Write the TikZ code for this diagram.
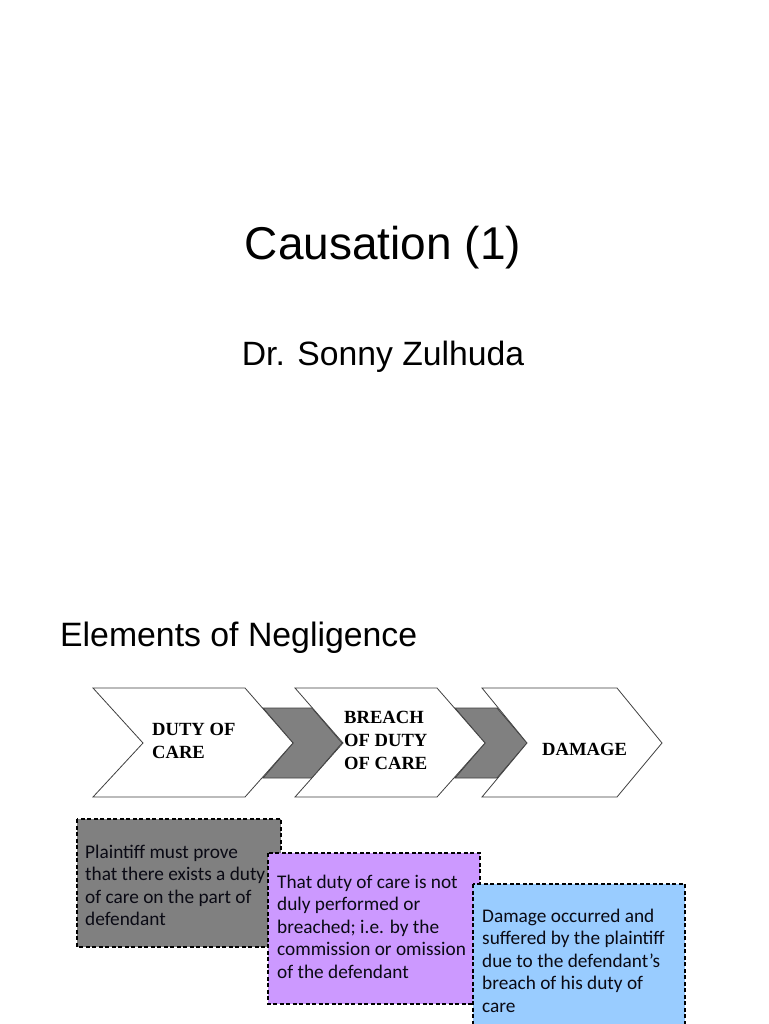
\documentclass[tikz,border=0pt]{standalone}
\usepackage{fontspec}
\setmainfont{Liberation Serif}
\newfontfamily\arialf{Liberation Sans}
\newfontfamily\calf{Carlito}
\definecolor{arrowgray}{HTML}{808080}
\definecolor{edgegray}{HTML}{404040}
\definecolor{boxgray}{HTML}{808080}
\definecolor{boxpurple}{HTML}{CC99FF}
\definecolor{boxblue}{HTML}{99CCFF}
\definecolor{boxtext}{HTML}{0A0A14}
\begin{document}
\begin{tikzpicture}[x=1pt,y=-1pt,
  chev/.style={fill=white,draw=edgegray,line width=0.8pt,line join=miter},
  link/.style={fill=arrowgray,draw=edgegray,line width=0.8pt},
  chevtext/.style={anchor=base west,inner sep=0pt,font=\fontsize{18.6}{23}\selectfont\bfseries,align=left},
  notebox/.style={draw=black,line width=1.2pt,dash pattern=on 4pt off 2.5pt},
  notetext/.style={anchor=base west,inner sep=0pt,text=boxtext,font=\calf\fontsize{19.3}{22.5}\selectfont}
]
\useasboundingbox (0,0) rectangle (768,1024);
\fill[white] (0,0) rectangle (768,1024);

% titles
\node[anchor=base,inner sep=0pt,font=\arialf\fontsize{46}{50}\selectfont] (title) at (383,259) {Causation (1)};
\node[anchor=base,inner sep=0pt,font=\arialf\fontsize{33.7}{40}\selectfont] (author) at (383,365) {Dr. Sonny Zulhuda};
\node[anchor=base west,inner sep=0pt,font=\arialf\fontsize{33.8}{40}\selectfont] (heading) at (60,646) {Elements of Negligence};

% gray links between chevrons
\path[link] (263,708) -- (312,708) -- (342,743) -- (312,778) -- (263,778) -- (293,743) -- cycle;
\path[link] (455,708) -- (497,708) -- (527,743) -- (497,778) -- (455,778) -- (485,743) -- cycle;

% chevrons
\path[chev] (93,688) -- (245,688) -- (293,743) -- (245,797) -- (93,797) -- (143,743) -- cycle;
\path[chev] (295,688) -- (437,688) -- (485,743) -- (437,797) -- (295,797) -- (343,743) -- cycle;
\path[chev] (482,688) -- (617,688) -- (662,743) -- (617,797) -- (482,797) -- (527,743) -- cycle;

\node[chevtext] (duty) at (152,735) {\parbox[t]{100pt}{DUTY OF\\CARE}};
\node[chevtext] (breach) at (344,723) {\parbox[t]{100pt}{BREACH\\OF DUTY\\OF CARE}};
\node[chevtext] (damage) at (542,755) {DAMAGE};

% note boxes
\path[notebox,fill=boxgray] (77,819) rectangle (281,947);
\node[notetext] (note1) at (85,858) {\parbox[t]{200pt}{Plaintiff must prove\\that there exists a duty\\of care on the part of\\defendant}};

\path[notebox,fill=boxpurple] (268,853) rectangle (480,1004);
\node[notetext] (note2) at (277,888) {\parbox[t]{200pt}{That duty of care is not\\duly performed or\\breached; i.e. by the\\commission or omission\\of the defendant}};

\path[notebox,fill=boxblue] (473,884) rectangle (685,1040);
\node[notetext] (note3) at (482,922) {\parbox[t]{200pt}{Damage occurred and\\suffered by the plaintiff\\due to the defendant’s\\breach of his duty of\\care}};
\end{tikzpicture}
\end{document}
